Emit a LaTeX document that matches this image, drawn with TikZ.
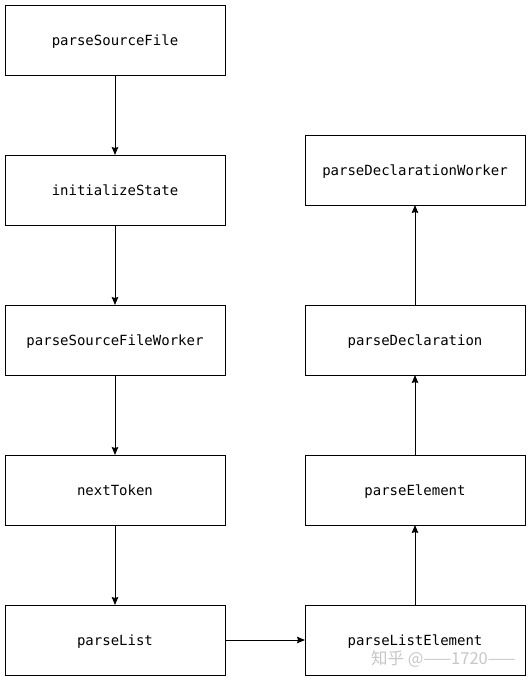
\documentclass[tikz,border=0pt]{standalone}
\usepackage{fontspec}
\setmonofont{DejaVu Sans Mono}
\newfontfamily\cjk{Noto Sans CJK SC}
\usetikzlibrary{arrows.meta,positioning}

\begin{document}
\begin{tikzpicture}[auto, node distance=80pt,
    func/.style = {rectangle, minimum width=220pt, minimum height=70pt, outer sep=0pt, text centered, text height=11.5pt, text depth=0pt, draw=black, fill=white, line width=1pt, font=\ttfamily\fontsize{14}{16}\selectfont},
    arrow/.style = {line width=1pt, -{Stealth[length=8pt, width=6.5pt, inset=1pt]}}
]
\useasboundingbox (0,0) rectangle (531pt,-681pt);

% Nodes
\node (file) [func, anchor=north west] at (5pt,-5pt) {parseSourceFile};
\node (init) [func, below=of file] {initializeState};
\node (worker) [func, below=of init] {parseSourceFileWorker};
\node (token) [func, below=of worker] {nextToken};
\node (list) [func, below=of token] {parseList};

\node (listelem) [func, right=of list] {parseListElement};
\node (elem) [func, above=of listelem] {parseElement};
\node (decl) [func, above=of elem] {parseDeclaration};
\node (declworker) [func, above=100pt of decl] {parseDeclarationWorker};

\node (mark) [text=black!22, font=\cjk\fontsize{16.5}{19}\selectfont, anchor=east] at (519pt,-659pt) {知乎 @——1720——};

% Edges
\draw [arrow] (file) -- (init);
\draw [arrow] (init) -- (worker);
\draw [arrow] (worker) -- (token);
\draw [arrow] (token) -- (list);
\draw [arrow] (list) -- (listelem);
\draw [arrow] (listelem) -- (elem);
\draw [arrow] (elem) -- (decl);
\draw [arrow] (decl) -- (declworker);

\end{tikzpicture}
\end{document}
